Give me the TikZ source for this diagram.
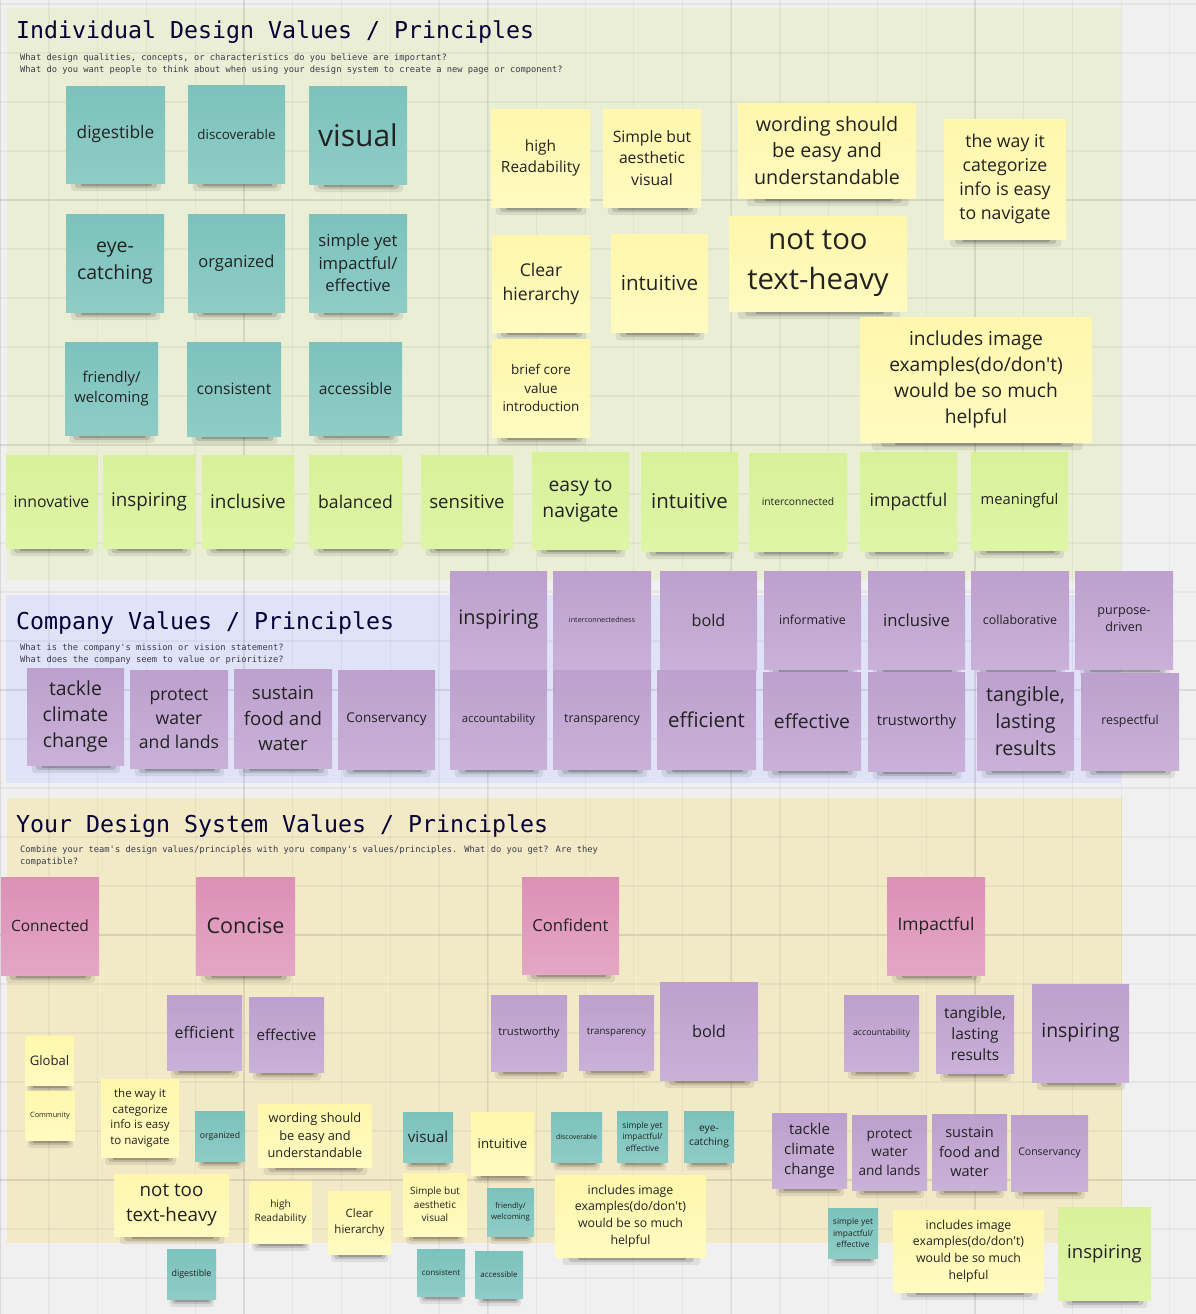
\documentclass[tikz,border=0pt]{standalone}
\usepackage{fontspec}
\setmainfont{Open Sans}
\newfontfamily\monof{DejaVu Sans Mono}
\definecolor{bgc}{HTML}{F0F0F0}
\definecolor{pgreen}{HTML}{EAEED4}
\definecolor{pblue}{HTML}{E0E3F8}
\definecolor{pyellow}{HTML}{F2E9C7}
\definecolor{titlec}{HTML}{050038}
\definecolor{subc}{HTML}{3A3A4A}
\definecolor{notetext}{HTML}{222222}
\definecolor{tealT}{HTML}{7CC2BC}\definecolor{tealB}{HTML}{8FCCC6}
\definecolor{yelT}{HTML}{FEF7AC}\definecolor{yelB}{HTML}{FFFAC0}
\definecolor{grnT}{HTML}{D8F199}\definecolor{grnB}{HTML}{DEF5A6}
\definecolor{purT}{HTML}{BDA0CD}\definecolor{purB}{HTML}{C9B1D8}
\definecolor{pnkT}{HTML}{DC90B5}\definecolor{pnkB}{HTML}{E4A6C5}
\tikzset{
  nteal/.style={top color=tealT,bottom color=tealB},
  nyel/.style={top color=yelT,bottom color=yelB},
  ngrn/.style={top color=grnT,bottom color=grnB},
  npur/.style={top color=purT,bottom color=purB},
  npnk/.style={top color=pnkT,bottom color=pnkB},
  notebox/.style={draw=none,inner sep=1pt,outer sep=0pt,align=center,text=notetext},
  gridminor/.style={black,opacity=.04,line width=1.2pt},
  gridmajor/.style={black,opacity=.055,line width=2pt},
  titletext/.style={anchor=base west,inner sep=0pt,text=titlec,font=\monof\fontsize{23.25pt}{28pt}\selectfont},
  subtext/.style={anchor=base west,inner sep=0pt,text=subc,font=\monof\fontsize{8.75pt}{12pt}\selectfont},
}
% name, x, y, w, h, style, font size, text
\newcommand\stickynote[8]{%
  \pgfmathsetmacro\sx{#2}\pgfmathsetmacro\sy{#3}%
  \pgfmathsetmacro\sw{#4}\pgfmathsetmacro\sh{#5}%
  \fill[black,opacity=.08,rounded corners=3pt] (\sx+0.05*\sw,\sy+\sh-4) rectangle (\sx+0.96*\sw,\sy+\sh+8);
  \fill[black,opacity=.13,rounded corners=3pt] (\sx+0.09*\sw,\sy+\sh-3) rectangle (\sx+0.92*\sw,\sy+\sh+5);
  \fill[black,opacity=.20,rounded corners=2pt] (\sx+0.15*\sw,\sy+\sh-2) rectangle (\sx+0.87*\sw,\sy+\sh+3);
  \pgfmathsetmacro\lsk{1.36*#7}%
  \node[notebox,#6,minimum width=#4pt,minimum height=#5pt,anchor=north west,
        font=\fontsize{#7pt}{\lsk pt}\selectfont] (#1) at (#2,#3) {#8};
}
\begin{document}
\begin{tikzpicture}[x=1pt,y=-1pt]
\useasboundingbox (0,0) rectangle (1196,1314);
\fill[bgc] (0,0) rectangle (1196,1314);
% panels
\fill[pgreen] (7,8) rectangle (1121,580);
\fill[pblue] (6,595) rectangle (1121,783);
\fill[pyellow] (7,798) rectangle (1122,1243);
% grid
\foreach \k in {-5,...,20} {\pgfmathsetmacro\gx{244+48.73*\k}\draw[gridminor] (\gx,0) -- (\gx,1314);}
\foreach \k in {-4,...,23} {\pgfmathsetmacro\gy{200+49*\k}\draw[gridminor] (0,\gy) -- (1196,\gy);}
\foreach \gx in {0,244,488,731,975} {\draw[gridmajor] (\gx,0) -- (\gx,1314);}
\foreach \gy in {200,445,690,935,1180} {\draw[gridmajor] (0,\gy) -- (1196,\gy);}

% titles
\node[titletext] (t1) at (16,39) {Individual Design Values / Principles};
\node[subtext] (s1a) at (20,61) {What design qualities, concepts, or characteristics do you believe are important?};
\node[subtext] (s1b) at (20,73) {What do you want people to think about when using your design system to create a new page or component?};
\node[titletext] (t2) at (16,629) {Company Values / Principles};
\node[subtext] (s2a) at (20,650) {What is the company\textquotesingle s mission or vision statement?};
\node[subtext] (s2b) at (20,662) {What does the company seem to value or prioritize?};
\node[titletext] (t3) at (16,832) {Your Design System Values / Principles};
\node[subtext] (s3a) at (20,852) {Combine your team\textquotesingle s design values/principles with yoru company\textquotesingle s values/principles. What do you get? Are they};
\node[subtext] (s3b) at (20,864) {compatible?};

% ---- Individual design values: teal
\stickynote{a1}{66}{86}{99}{97}{nteal}{17.3}{digestible}
\stickynote{a2}{188}{85}{97}{98}{nteal}{13.4}{discoverable}
\stickynote{a3}{309}{86}{98}{98}{nteal}{30}{visual}
\stickynote{a4}{66}{214}{98}{98}{nteal}{19.5}{eye-\\catching}
\stickynote{a5}{188}{214}{97}{98}{nteal}{16.5}{organized}
\stickynote{a6}{309}{214}{98}{98}{nteal}{16.6}{simple yet\\impactful/\\effective}
\stickynote{a7}{65}{342}{93}{93}{nteal}{14.8}{friendly/\\welcoming}
\stickynote{a8}{187}{342}{94}{94}{nteal}{15.6}{consistent}
\stickynote{a9}{309}{342}{93}{93}{nteal}{15.6}{accessible}
% yellow
\stickynote{b1}{491}{109}{99}{98}{nyel}{15.4}{high\\Readability}
\stickynote{b2}{603}{109}{98}{98}{nyel}{15.7}{Simple but\\aesthetic\\visual}
\stickynote{b3}{738}{103}{178}{95}{nyel}{19.7}{wording should\\be easy and\\understandable}
\stickynote{b4}{944}{119}{122}{120}{nyel}{17.7}{the way it\\categorize\\info is easy\\to navigate}
\stickynote{b5}{492}{235}{98}{97}{nyel}{17.6}{Clear\\hierarchy}
\stickynote{b6}{611}{234}{97}{98}{nyel}{20.6}{intuitive}
\stickynote{b7}{729}{216}{178}{95}{nyel}{29.3}{not too\\text-heavy}
\stickynote{b8}{492}{339}{98}{98}{nyel}{13.4}{brief core\\value\\introduction}
\stickynote{b9}{860}{317}{232}{125}{nyel}{19.2}{includes image\\examples(do/don\textquotesingle t)\\would be so much\\helpful}
% green
\stickynote{c1}{6}{455}{91}{93}{ngrn}{15.8}{innovative}
\stickynote{c2}{103}{455}{92}{93}{ngrn}{18.8}{inspiring}
\stickynote{c3}{202}{455}{92}{93}{ngrn}{18.9}{inclusive}
\stickynote{c4}{309}{455}{93}{93}{ngrn}{17.6}{balanced}
\stickynote{c5}{421}{455}{92}{93}{ngrn}{18.6}{sensitive}
\stickynote{c6}{532}{452}{97}{97}{ngrn}{19.3}{easy to\\navigate}
\stickynote{c7}{641}{452}{97}{99}{ngrn}{20.4}{intuitive}
\stickynote{c8}{749}{453}{98}{98}{ngrn}{10.3}{interconnected}
\stickynote{c9}{860}{452}{97}{99}{ngrn}{17.7}{impactful}
\stickynote{c10}{971}{452}{97}{98}{ngrn}{14.7}{meaningful}

% ---- Company values
\stickynote{d1}{27}{668}{97}{97}{npur}{19.4}{tackle\\climate\\change}
\stickynote{d2}{130}{670}{98}{98}{npur}{17.6}{protect\\water\\and lands}
\stickynote{d3}{234}{669}{98}{99}{npur}{18.6}{sustain\\food and\\water}
\stickynote{d4}{338}{670}{97}{99}{npur}{13.5}{Conservancy}
\stickynote{e1}{450}{571}{97}{98}{npur}{19.9}{inspiring}
\stickynote{e2}{553}{571}{98}{98}{npur}{7.2}{interconnectedness}
\stickynote{e3}{660}{571}{97}{98}{npur}{16.2}{bold}
\stickynote{e4}{764}{571}{97}{98}{npur}{12.4}{informative}
\stickynote{e5}{868}{571}{97}{98}{npur}{16.7}{inclusive}
\stickynote{e6}{971}{571}{98}{98}{npur}{12.4}{collaborative}
\stickynote{e7}{1075}{571}{98}{98}{npur}{12.6}{purpose-\\driven}
\stickynote{f1}{450}{670}{97}{99}{npur}{11.3}{accountability}
\stickynote{f2}{553}{670}{98}{99}{npur}{12.4}{transparency}
\stickynote{f3}{657}{670}{99}{99}{npur}{20.5}{efficient}
\stickynote{f4}{763}{672}{98}{98}{npur}{19.3}{effective}
\stickynote{f5}{868}{672}{97}{99}{npur}{14.5}{trustworthy}
\stickynote{f6}{977}{672}{97}{98}{npur}{19.7}{tangible,\\lasting\\results}
\stickynote{f7}{1081}{673}{98}{97}{npur}{12.4}{respectful}

% ---- Your design system values
\stickynote{g1}{1}{877}{98}{98}{npnk}{15.5}{Connected}
\stickynote{g2}{196}{877}{99}{98}{npnk}{21.5}{Concise}
\stickynote{g3}{522}{877}{97}{97}{npnk}{16.6}{Confident}
\stickynote{g4}{887}{877}{98}{98}{npnk}{17.4}{Impactful}
\stickynote{h1}{167}{995}{75}{75}{npur}{15.9}{efficient}
\stickynote{h2}{249}{997}{75}{75}{npur}{15.1}{effective}
\stickynote{h3}{491}{995}{76}{76}{npur}{11.2}{trustworthy}
\stickynote{h4}{579}{995}{75}{75}{npur}{9.7}{transparency}
\stickynote{h5}{660}{982}{98}{98}{npur}{16.3}{bold}
\stickynote{h6}{844}{995}{75}{76}{npur}{8.8}{accountability}
\stickynote{h7}{936}{995}{78}{78}{npur}{15.5}{tangible,\\lasting\\results}
\stickynote{h8}{1032}{984}{97}{98}{npur}{19.4}{inspiring}
\stickynote{i1}{25}{1036}{49}{49}{nyel}{13.1}{Global}
\stickynote{i2}{25}{1091}{50}{49}{nyel}{7.3}{Community}
\stickynote{i3}{101}{1079}{78}{78}{nyel}{11.5}{the way it\\categorize\\info is easy\\to navigate}
\stickynote{i4}{195}{1111}{50}{50}{nteal}{8.7}{organized}
\stickynote{i5}{258}{1104}{114}{63}{nyel}{12.8}{wording should\\be easy and\\understandable}
\stickynote{i6}{403}{1112}{50}{50}{nteal}{15.2}{visual}
\stickynote{i7}{471}{1112}{63}{63}{nyel}{13.2}{intuitive}
\stickynote{i8}{551}{1112}{51}{50}{nteal}{7}{discoverable}
\stickynote{i9}{617}{1111}{51}{51}{nteal}{8.4}{simple yet\\impactful/\\effective}
\stickynote{i10}{684}{1111}{50}{51}{nteal}{10.2}{eye-\\catching}
\stickynote{j1}{772}{1113}{75}{75}{npur}{15}{tackle\\climate\\change}
\stickynote{j2}{852}{1115}{75}{75}{npur}{13.6}{protect\\water\\and lands}
\stickynote{j3}{932}{1114}{75}{76}{npur}{14.5}{sustain\\food and\\water}
\stickynote{j4}{1011}{1115}{77}{76}{npur}{10.5}{Conservancy}
\stickynote{k1}{114}{1174}{115}{62}{nyel}{18.8}{not too\\text-heavy}
\stickynote{k2}{249}{1181}{63}{62}{nyel}{10.1}{high\\Readability}
\stickynote{k3}{328}{1191}{63}{63}{nyel}{11.5}{Clear\\hierarchy}
\stickynote{k4}{403}{1173}{64}{63}{nyel}{10}{Simple but\\aesthetic\\visual}
\stickynote{k5}{487}{1188}{47}{48}{nteal}{7.75}{friendly/\\welcoming}
\stickynote{k6}{555}{1175}{151}{82}{nyel}{12.3}{includes image\\examples(do/don\textquotesingle t)\\would be so much\\helpful}
\stickynote{k7}{828}{1208}{50}{50}{nteal}{8.4}{simple yet\\impactful/\\effective}
\stickynote{k8}{893}{1210}{151}{82}{nyel}{12.3}{includes image\\examples(do/don\textquotesingle t)\\would be so much\\helpful}
\stickynote{k9}{1058}{1207}{93}{93}{ngrn}{18.5}{inspiring}
\stickynote{l1}{167}{1249}{49}{50}{nteal}{8.9}{digestible}
\stickynote{l2}{417}{1249}{48}{47}{nteal}{8}{consistent}
\stickynote{l3}{475}{1251}{48}{47}{nteal}{7.9}{accessible}
\end{tikzpicture}
\end{document}
